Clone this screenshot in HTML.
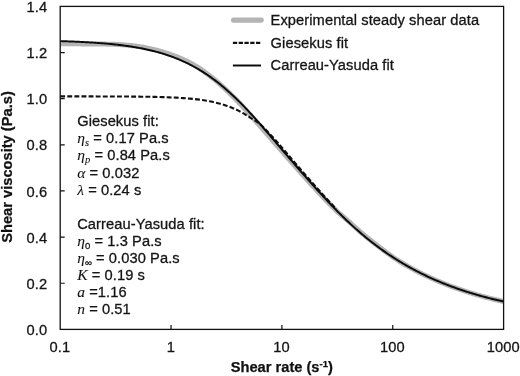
<!DOCTYPE html>
<html><head><meta charset="utf-8"><title>Shear viscosity fit</title>
<style>
html,body{margin:0;padding:0;background:#fff;}
svg{display:block;filter:blur(0.4px);}
text{font-family:"Liberation Sans",Arial,sans-serif;font-size:14.67px;fill:#151515;stroke:#151515;stroke-width:0.3px;letter-spacing:0.08px;}
.b{font-weight:bold;fill:#111;stroke:#111;stroke-width:0.25px;letter-spacing:0;}
.m{font-family:"Liberation Serif","DejaVu Serif",serif;font-style:italic;font-size:15.5px;stroke-width:0.1px;}
.ms{font-family:"Liberation Serif","DejaVu Serif",serif;font-style:italic;font-size:10.5px;stroke-width:0.1px;}
.ss{font-size:9.6px;}
</style></head><body>
<svg width="520" height="376" viewBox="0 0 520 376">
<rect width="520" height="376" fill="#fff"/>

<path d="M60.20,43.71 L61.31,43.72 L62.42,43.73 L63.53,43.75 L64.63,43.76 L65.74,43.77 L66.85,43.78 L67.96,43.79 L69.07,43.79 L70.18,43.80 L71.28,43.81 L72.39,43.82 L73.50,43.83 L74.61,43.83 L75.72,43.84 L76.83,43.85 L77.94,43.86 L79.04,43.87 L80.15,43.87 L81.26,43.88 L82.37,43.89 L83.48,43.91 L84.59,43.92 L85.70,43.93 L86.80,43.94 L87.91,43.95 L89.02,43.96 L90.13,43.96 L91.24,43.97 L92.35,43.97 L93.46,43.97 L94.56,43.98 L95.67,43.98 L96.78,43.99 L97.89,44.00 L99.00,44.00 L100.11,44.02 L101.21,44.03 L102.32,44.04 L103.43,44.06 L104.54,44.09 L105.65,44.11 L106.76,44.14 L107.87,44.16 L108.97,44.19 L110.08,44.22 L111.19,44.25 L112.30,44.28 L113.41,44.32 L114.52,44.36 L115.62,44.40 L116.73,44.44 L117.84,44.50 L118.95,44.55 L120.06,44.61 L121.17,44.68 L122.28,44.76 L123.38,44.84 L124.49,44.93 L125.60,45.03 L126.71,45.13 L127.82,45.24 L128.93,45.35 L130.04,45.46 L131.14,45.58 L132.25,45.70 L133.36,45.83 L134.47,45.96 L135.58,46.10 L136.69,46.25 L137.80,46.40 L138.90,46.56 L140.01,46.73 L141.12,46.90 L142.23,47.08 L143.34,47.27 L144.45,47.47 L145.55,47.67 L146.66,47.89 L147.77,48.11 L148.88,48.35 L149.99,48.59 L151.10,48.84 L152.21,49.10 L153.31,49.37 L154.42,49.64 L155.53,49.92 L156.64,50.21 L157.75,50.50 L158.86,50.80 L159.97,51.11 L161.07,51.42 L162.18,51.74 L163.29,52.07 L164.40,52.41 L165.51,52.76 L166.62,53.11 L167.72,53.48 L168.83,53.85 L169.94,54.23 L171.05,54.62 L172.16,55.02 L173.27,55.42 L174.38,55.84 L175.48,56.27 L176.59,56.70 L177.70,57.15 L178.81,57.60 L179.92,58.06 L181.03,58.54 L182.14,59.02 L183.24,59.52 L184.35,60.03 L185.46,60.54 L186.57,61.07 L187.68,61.61 L188.79,62.16 L189.89,62.72 L191.00,63.29 L192.11,63.89 L193.22,64.51 L194.33,65.14 L195.44,65.80 L196.55,66.47 L197.65,67.17 L198.76,67.88 L199.87,68.60 L200.98,69.35 L202.09,70.11 L203.20,70.88 L204.31,71.67 L205.41,72.48 L206.52,73.30 L207.63,74.13 L208.74,74.97 L209.85,75.83 L210.96,76.69 L212.06,77.57 L213.17,78.46 L214.28,79.36 L215.39,80.26 L216.50,81.18 L217.61,82.12 L218.72,83.07 L219.82,84.04 L220.93,85.02 L222.04,86.02 L223.15,87.03 L224.26,88.05 L225.37,89.09 L226.48,90.13 L227.58,91.19 L228.69,92.26 L229.80,93.33 L230.91,94.42 L232.02,95.51 L233.13,96.61 L234.23,97.72 L235.34,98.84 L236.45,99.97 L237.56,101.11 L238.67,102.26 L239.78,103.42 L240.89,104.60 L241.99,105.78 L243.10,106.98 L244.21,108.18 L245.32,109.40 L246.43,110.62 L247.54,111.85 L248.65,113.08 L249.75,114.32 L250.86,115.57 L251.97,116.83 L253.08,118.08 L254.19,119.34 L255.30,120.61 L256.40,121.88 L257.51,123.15 L258.62,124.42 L259.73,125.69 L260.84,126.96 L261.95,128.23 L263.06,129.50 L264.16,130.78 L265.27,132.05 L266.38,133.33 L267.49,134.61 L268.60,135.88 L269.71,137.16 L270.82,138.44 L271.92,139.72 L273.03,140.99 L274.14,142.27 L275.25,143.55 L276.36,144.82 L277.47,146.10 L278.57,147.38 L279.68,148.65 L280.79,149.93 L281.90,151.20 L283.01,152.47 L284.12,153.74 L285.23,155.01 L286.33,156.28 L287.44,157.55 L288.55,158.82 L289.66,160.08 L290.77,161.34 L291.88,162.61 L292.99,163.87 L294.09,165.13 L295.20,166.38 L296.31,167.64 L297.42,168.89 L298.53,170.14 L299.64,171.39 L300.74,172.64 L301.85,173.89 L302.96,175.14 L304.07,176.38 L305.18,177.62 L306.29,178.86 L307.40,180.09 L308.50,181.32 L309.61,182.55 L310.72,183.78 L311.83,185.00 L312.94,186.22 L314.05,187.43 L315.16,188.64 L316.26,189.85 L317.37,191.05 L318.48,192.25 L319.59,193.44 L320.70,194.63 L321.81,195.81 L322.91,196.99 L324.02,198.16 L325.13,199.32 L326.24,200.48 L327.35,201.64 L328.46,202.79 L329.57,203.93 L330.67,205.07 L331.78,206.20 L332.89,207.32 L334.00,208.44 L335.11,209.54 L336.22,210.61 L337.32,211.65 L338.43,212.65 L339.54,213.62 L340.65,214.58 L341.76,215.52 L342.87,216.45 L343.98,217.38 L345.08,218.31 L346.19,219.24 L347.30,220.20 L348.41,221.17 L349.52,222.17 L350.63,223.20 L351.74,224.22 L352.84,225.23 L353.95,226.23 L355.06,227.23 L356.17,228.22 L357.28,229.20 L358.39,230.17 L359.50,231.13 L360.60,232.08 L361.71,233.03 L362.82,233.97 L363.93,234.89 L365.04,235.82 L366.15,236.73 L367.25,237.63 L368.36,238.53 L369.47,239.42 L370.58,240.30 L371.69,241.17 L372.80,242.03 L373.91,242.89 L375.01,243.74 L376.12,244.58 L377.23,245.43 L378.34,246.27 L379.45,247.12 L380.56,247.97 L381.67,248.81 L382.77,249.65 L383.88,250.49 L384.99,251.33 L386.10,252.15 L387.21,252.97 L388.32,253.79 L389.42,254.60 L390.53,255.39 L391.64,256.18 L392.75,256.96 L393.86,257.72 L394.97,258.47 L396.08,259.21 L397.18,259.93 L398.29,260.64 L399.40,261.34 L400.51,262.01 L401.62,262.68 L402.73,263.34 L403.84,264.00 L404.94,264.65 L406.05,265.29 L407.16,265.92 L408.27,266.55 L409.38,267.17 L410.49,267.79 L411.59,268.39 L412.70,269.00 L413.81,269.59 L414.92,270.18 L416.03,270.77 L417.14,271.34 L418.25,271.91 L419.35,272.48 L420.46,273.04 L421.57,273.59 L422.68,274.14 L423.79,274.68 L424.90,275.22 L426.01,275.75 L427.11,276.27 L428.22,276.79 L429.33,277.30 L430.44,277.81 L431.55,278.31 L432.66,278.81 L433.76,279.30 L434.87,279.79 L435.98,280.27 L437.09,280.75 L438.20,281.22 L439.31,281.68 L440.42,282.14 L441.52,282.60 L442.63,283.05 L443.74,283.49 L444.85,283.94 L445.96,284.37 L447.07,284.80 L448.18,285.23 L449.28,285.65 L450.39,286.07 L451.50,286.48 L452.61,286.89 L453.72,287.29 L454.83,287.69 L455.93,288.09 L457.04,288.48 L458.15,288.87 L459.26,289.25 L460.37,289.63 L461.48,290.00 L462.59,290.37 L463.69,290.74 L464.80,291.10 L465.91,291.46 L467.02,291.81 L468.13,292.16 L469.24,292.51 L470.35,292.85 L471.45,293.19 L472.56,293.52 L473.67,293.85 L474.78,294.18 L475.89,294.50 L477.00,294.82 L478.10,295.14 L479.21,295.45 L480.32,295.76 L481.43,296.07 L482.54,296.37 L483.65,296.67 L484.76,296.97 L485.86,297.26 L486.97,297.55 L488.08,297.84 L489.19,298.12 L490.30,298.40 L491.41,298.68 L492.51,298.95 L493.62,299.22 L494.73,299.49 L495.84,299.76 L496.95,300.02 L498.06,300.28 L499.17,300.53 L500.27,300.79 L501.38,301.04 L502.49,301.29 L503.60,301.53" fill="none" stroke="#b4b4b4" stroke-width="5" stroke-linejoin="round"/>
<path d="M60.20,96.39 L62.52,96.39 L64.84,96.39 L67.16,96.39 L69.48,96.39 L71.80,96.40 L74.12,96.40 L76.45,96.40 L78.77,96.40 L81.09,96.40 L83.41,96.41 L85.73,96.41 L88.05,96.41 L90.37,96.42 L92.69,96.42 L95.01,96.42 L97.33,96.43 L99.65,96.43 L101.97,96.44 L104.29,96.44 L106.61,96.45 L108.94,96.46 L111.26,96.47 L113.58,96.47 L115.90,96.48 L118.22,96.50 L120.54,96.51 L122.86,96.52 L125.18,96.53 L127.50,96.55 L129.82,96.57 L132.14,96.59 L134.46,96.61 L136.78,96.63 L139.10,96.66 L141.43,96.68 L143.75,96.71 L146.07,96.75 L148.39,96.79 L150.71,96.83 L153.03,96.87 L155.35,96.92 L157.67,96.98 L159.99,97.04 L162.31,97.10 L164.63,97.17 L166.95,97.25 L169.27,97.34 L171.60,97.44 L173.92,97.54 L176.24,97.66 L178.56,97.79 L180.88,97.93 L183.20,98.08 L185.52,98.25 L187.84,98.43 L190.16,98.63 L192.48,98.86 L194.80,99.10 L197.12,99.36 L199.44,99.65 L201.76,99.97 L204.09,100.32 L206.41,100.69 L208.73,101.10 L211.05,101.55 L213.37,102.04 L215.69,102.57 L218.01,103.15 L220.33,103.77 L222.65,104.45 L224.97,105.18 L227.29,105.97 L229.61,106.83 L231.93,107.75 L234.26,108.73 L236.58,109.79 L238.90,110.93 L241.22,112.14 L243.54,113.43 L245.86,114.81 L248.18,116.27 L250.50,117.80 L252.82,119.16 L255.14,120.52 L257.46,122.12 L259.78,123.94 L262.10,126.05 L264.42,128.37 L266.75,130.81 L269.07,133.28 L271.39,135.75 L273.71,138.23 L276.03,140.72 L278.35,143.35 L280.67,146.08 L282.99,148.82 L285.31,151.55 L287.63,154.27 L289.95,156.99 L292.27,159.70 L294.59,162.41 L296.91,165.10 L299.24,167.79 L301.56,170.46 L303.88,173.12 L306.20,175.78 L308.52,178.45 L310.84,181.10 L313.16,183.73 L315.48,186.35 L317.80,188.95 L320.12,191.53 L322.44,194.09 L324.76,196.64 L327.08,199.20 L329.41,201.74 L331.73,204.26 L334.05,206.75 L336.37,209.21" fill="none" stroke="#111" stroke-width="2.1" stroke-dasharray="4.9 2.2"/>
<path d="M60.20,41.11 L61.31,41.14 L62.42,41.18 L63.53,41.21 L64.63,41.25 L65.74,41.29 L66.85,41.33 L67.96,41.37 L69.07,41.41 L70.18,41.45 L71.28,41.49 L72.39,41.53 L73.50,41.58 L74.61,41.63 L75.72,41.67 L76.83,41.72 L77.94,41.77 L79.04,41.82 L80.15,41.88 L81.26,41.93 L82.37,41.98 L83.48,42.04 L84.59,42.10 L85.70,42.16 L86.80,42.22 L87.91,42.28 L89.02,42.35 L90.13,42.42 L91.24,42.48 L92.35,42.55 L93.46,42.63 L94.56,42.70 L95.67,42.78 L96.78,42.85 L97.89,42.93 L99.00,43.02 L100.11,43.10 L101.21,43.19 L102.32,43.27 L103.43,43.36 L104.54,43.46 L105.65,43.55 L106.76,43.65 L107.87,43.75 L108.97,43.85 L110.08,43.96 L111.19,44.07 L112.30,44.18 L113.41,44.29 L114.52,44.41 L115.62,44.53 L116.73,44.65 L117.84,44.78 L118.95,44.91 L120.06,45.04 L121.17,45.18 L122.28,45.32 L123.38,45.46 L124.49,45.61 L125.60,45.76 L126.71,45.91 L127.82,46.07 L128.93,46.23 L130.04,46.40 L131.14,46.57 L132.25,46.74 L133.36,46.92 L134.47,47.10 L135.58,47.29 L136.69,47.48 L137.80,47.68 L138.90,47.88 L140.01,48.09 L141.12,48.30 L142.23,48.52 L143.34,48.74 L144.45,48.97 L145.55,49.20 L146.66,49.44 L147.77,49.68 L148.88,49.94 L149.99,50.19 L151.10,50.45 L152.21,50.72 L153.31,51.00 L154.42,51.28 L155.53,51.57 L156.64,51.86 L157.75,52.16 L158.86,52.47 L159.97,52.79 L161.07,53.11 L162.18,53.44 L163.29,53.78 L164.40,54.13 L165.51,54.48 L166.62,54.84 L167.72,55.21 L168.83,55.59 L169.94,55.98 L171.05,56.37 L172.16,56.77 L173.27,57.19 L174.38,57.61 L175.48,58.04 L176.59,58.48 L177.70,58.92 L178.81,59.38 L179.92,59.85 L181.03,60.33 L182.14,60.82 L183.24,61.31 L184.35,61.82 L185.46,62.34 L186.57,62.87 L187.68,63.41 L188.79,63.96 L189.89,64.52 L191.00,65.09 L192.11,65.67 L193.22,66.26 L194.33,66.87 L195.44,67.49 L196.55,68.11 L197.65,68.75 L198.76,69.41 L199.87,70.07 L200.98,70.74 L202.09,71.43 L203.20,72.13 L204.31,72.84 L205.41,73.56 L206.52,74.30 L207.63,75.05 L208.74,75.81 L209.85,76.58 L210.96,77.37 L212.06,78.17 L213.17,78.98 L214.28,79.80 L215.39,80.64 L216.50,81.49 L217.61,82.35 L218.72,83.22 L219.82,84.11 L220.93,85.01 L222.04,85.92 L223.15,86.84 L224.26,87.78 L225.37,88.73 L226.48,89.69 L227.58,90.67 L228.69,91.65 L229.80,92.65 L230.91,93.66 L232.02,94.68 L233.13,95.72 L234.23,96.76 L235.34,97.82 L236.45,98.89 L237.56,99.97 L238.67,101.07 L239.78,102.17 L240.89,103.28 L241.99,104.41 L243.10,105.54 L244.21,106.69 L245.32,107.84 L246.43,109.01 L247.54,110.18 L248.65,111.37 L249.75,112.56 L250.86,113.77 L251.97,114.98 L253.08,116.20 L254.19,117.43 L255.30,118.66 L256.40,119.91 L257.51,121.16 L258.62,122.42 L259.73,123.69 L260.84,124.96 L261.95,126.23 L263.06,127.51 L264.16,128.79 L265.27,130.08 L266.38,131.36 L267.49,132.65 L268.60,133.94 L269.71,135.23 L270.82,136.52 L271.92,137.82 L273.03,139.11 L274.14,140.41 L275.25,141.71 L276.36,143.01 L277.47,144.30 L278.57,145.60 L279.68,146.90 L280.79,148.20 L281.90,149.50 L283.01,150.79 L284.12,152.09 L285.23,153.39 L286.33,154.68 L287.44,155.97 L288.55,157.27 L289.66,158.56 L290.77,159.85 L291.88,161.13 L292.99,162.42 L294.09,163.70 L295.20,164.99 L296.31,166.26 L297.42,167.54 L298.53,168.82 L299.64,170.09 L300.74,171.36 L301.85,172.62 L302.96,173.89 L304.07,175.15 L305.18,176.41 L306.29,177.66 L307.40,178.91 L308.50,180.16 L309.61,181.41 L310.72,182.65 L311.83,183.88 L312.94,185.12 L314.05,186.35 L315.16,187.58 L316.26,188.80 L317.37,190.02 L318.48,191.23 L319.59,192.44 L320.70,193.65 L321.81,194.85 L322.91,196.05 L324.02,197.25 L325.13,198.44 L326.24,199.63 L327.35,200.81 L328.46,201.99 L329.57,203.16 L330.67,204.33 L331.78,205.49 L332.89,206.65 L334.00,207.80 L335.11,208.94 L336.22,210.08 L337.32,211.20 L338.43,212.32 L339.54,213.43 L340.65,214.54 L341.76,215.63 L342.87,216.72 L343.98,217.80 L345.08,218.87 L346.19,219.93 L347.30,220.98 L348.41,222.03 L349.52,223.07 L350.63,224.10 L351.74,225.12 L352.84,226.13 L353.95,227.13 L355.06,228.13 L356.17,229.12 L357.28,230.10 L358.39,231.07 L359.50,232.03 L360.60,232.98 L361.71,233.93 L362.82,234.87 L363.93,235.79 L365.04,236.72 L366.15,237.63 L367.25,238.53 L368.36,239.43 L369.47,240.32 L370.58,241.20 L371.69,242.07 L372.80,242.93 L373.91,243.79 L375.01,244.64 L376.12,245.47 L377.23,246.31 L378.34,247.13 L379.45,247.95 L380.56,248.75 L381.67,249.55 L382.77,250.35 L383.88,251.13 L384.99,251.91 L386.10,252.68 L387.21,253.44 L388.32,254.20 L389.42,254.94 L390.53,255.68 L391.64,256.41 L392.75,257.14 L393.86,257.86 L394.97,258.57 L396.08,259.27 L397.18,259.97 L398.29,260.66 L399.40,261.34 L400.51,262.01 L401.62,262.68 L402.73,263.34 L403.84,264.00 L404.94,264.65 L406.05,265.29 L407.16,265.92 L408.27,266.55 L409.38,267.17 L410.49,267.79 L411.59,268.39 L412.70,269.00 L413.81,269.59 L414.92,270.18 L416.03,270.77 L417.14,271.34 L418.25,271.91 L419.35,272.48 L420.46,273.04 L421.57,273.59 L422.68,274.14 L423.79,274.68 L424.90,275.22 L426.01,275.75 L427.11,276.27 L428.22,276.79 L429.33,277.30 L430.44,277.81 L431.55,278.31 L432.66,278.81 L433.76,279.30 L434.87,279.79 L435.98,280.27 L437.09,280.75 L438.20,281.22 L439.31,281.68 L440.42,282.14 L441.52,282.60 L442.63,283.05 L443.74,283.49 L444.85,283.94 L445.96,284.37 L447.07,284.80 L448.18,285.23 L449.28,285.65 L450.39,286.07 L451.50,286.48 L452.61,286.89 L453.72,287.29 L454.83,287.69 L455.93,288.09 L457.04,288.48 L458.15,288.87 L459.26,289.25 L460.37,289.63 L461.48,290.00 L462.59,290.37 L463.69,290.74 L464.80,291.10 L465.91,291.46 L467.02,291.81 L468.13,292.16 L469.24,292.51 L470.35,292.85 L471.45,293.19 L472.56,293.52 L473.67,293.85 L474.78,294.18 L475.89,294.50 L477.00,294.82 L478.10,295.14 L479.21,295.45 L480.32,295.76 L481.43,296.07 L482.54,296.37 L483.65,296.67 L484.76,296.97 L485.86,297.26 L486.97,297.55 L488.08,297.84 L489.19,298.12 L490.30,298.40 L491.41,298.68 L492.51,298.95 L493.62,299.22 L494.73,299.49 L495.84,299.76 L496.95,300.02 L498.06,300.28 L499.17,300.53 L500.27,300.79 L501.38,301.04 L502.49,301.29 L503.60,301.53" fill="none" stroke="#0a0a0a" stroke-width="1.95" stroke-linejoin="round"/>
<rect x="60.2" y="6.4" width="443.40000000000003" height="323.0" fill="none" stroke="#111" stroke-width="1.3"/>
<path d="M60.2,283.26 h4.5 M60.2,237.11 h4.5 M60.2,190.97 h4.5 M60.2,144.83 h4.5 M60.2,98.69 h4.5 M60.2,52.54 h4.5 M171.05,329.4 v-4.5 M281.90,329.4 v-4.5 M392.75,329.4 v-4.5" stroke="#111" stroke-width="1.2" fill="none"/>
<text x="47.2" y="335.00" text-anchor="end" >0.0</text>
<text x="47.2" y="288.86" text-anchor="end" >0.2</text>
<text x="47.2" y="242.71" text-anchor="end" >0.4</text>
<text x="47.2" y="196.57" text-anchor="end" >0.6</text>
<text x="47.2" y="150.43" text-anchor="end" >0.8</text>
<text x="47.2" y="104.29" text-anchor="end" >1.0</text>
<text x="47.2" y="58.14" text-anchor="end" >1.2</text>
<text x="47.2" y="12.00" text-anchor="end" >1.4</text>
<text x="59.90" y="352.4" text-anchor="middle" >0.1</text>
<text x="170.75" y="352.4" text-anchor="middle" >1</text>
<text x="281.60" y="352.4" text-anchor="middle" >10</text>
<text x="392.45" y="352.4" text-anchor="middle" >100</text>
<text x="503.30" y="352.4" text-anchor="middle" >1000</text>
<text class="b" text-anchor="middle" transform="translate(12.3,167.0) rotate(-90)">Shear viscosity (Pa.s)</text>
<text class="b" text-anchor="middle" x="281.8" y="372.2">Shear rate (s<tspan dy="-5" font-size="9.5">-1</tspan><tspan dy="5">)</tspan></text>
<path d="M233.5,20.1 H261.2" stroke="#b4b4b4" stroke-width="5.2" stroke-linecap="round" fill="none"/>
<path d="M232.9,42.9 H260.5" stroke="#111" stroke-width="2.1" stroke-dasharray="4.3 1.47" fill="none"/>
<path d="M232.9,65.5 H261" stroke="#0a0a0a" stroke-width="1.95" fill="none"/>
<text x="270.6" y="25.2" text-anchor="start" >Experimental steady shear data</text>
<text x="270.6" y="47.6" text-anchor="start" >Giesekus fit</text>
<text x="270.6" y="70.0" text-anchor="start" >Carreau-Yasuda fit</text>
<text x="77.2" y="126.30" text-anchor="start" >Giesekus fit:</text>
<text x="77.2" y="143.38"><tspan class="m">η</tspan><tspan class="ms" dy="3">s</tspan><tspan dy="-3"> = 0.17 Pa.s</tspan></text>
<text x="77.2" y="160.46"><tspan class="m">η</tspan><tspan class="ms" dy="3">p</tspan><tspan dy="-3"> = 0.84 Pa.s</tspan></text>
<text x="77.2" y="177.54"><tspan class="m">α</tspan> = 0.032</text>
<text x="77.2" y="194.62"><tspan class="m">λ</tspan> = 0.24 s</text>
<text x="77.2" y="228.78" text-anchor="start" >Carreau-Yasuda fit:</text>
<text x="77.2" y="245.86"><tspan class="m">η</tspan><tspan class="ss" dy="3">0</tspan><tspan dy="-3"> = 1.3 Pa.s</tspan></text>
<text x="77.2" y="262.94"><tspan class="m">η</tspan><tspan class="ss" dy="3">∞</tspan><tspan dy="-3"> = 0.030 Pa.s</tspan></text>
<text x="77.2" y="280.02"><tspan class="m">K</tspan> = 0.19 s</text>
<text x="77.2" y="297.10"><tspan class="m">a</tspan> =1.16</text>
<text x="77.2" y="314.18"><tspan class="m">n</tspan> = 0.51</text>
</svg></body></html>
